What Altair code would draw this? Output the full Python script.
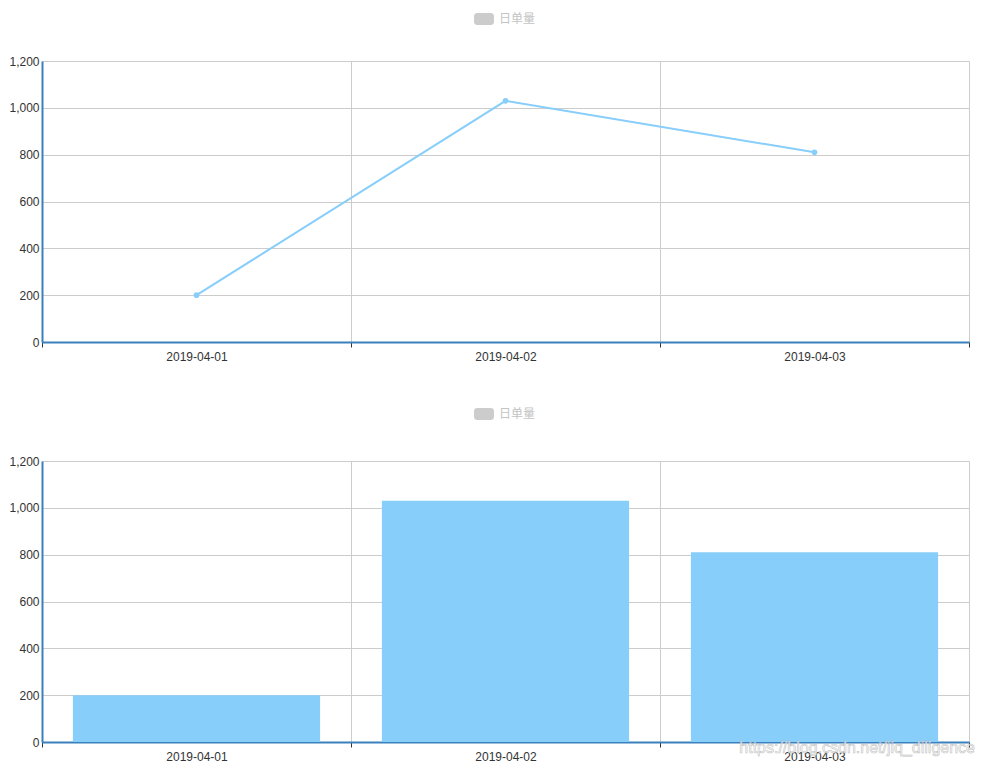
import altair as alt
import pandas as pd

dates = ["2019-04-01", "2019-04-02", "2019-04-03"]
orders = [200, 1030, 810]
series_name = "日单量"
y_ticks = [0, 200, 400, 600, 800, 1000, 1200]
watermark = "https://blog.csdn.net/jiq_diligence"

df = pd.DataFrame({"date": dates, "orders": orders})
legend_df = pd.DataFrame({"series": [series_name], "orders": [float("nan")]})
wm_df = pd.DataFrame({"wm": [watermark]})

W, H = 927, 281
BLUE = "#3a80bd"
LINE = "#87cefa"
GRID = "#cccccc"
LABEL_FONT = "Liberation Sans"
ROUNDED = ("M-0.7,-0.6 H0.7 A0.3,0.3 0 0 1 1,-0.3 V0.3 A0.3,0.3 0 0 1 0.7,0.6 "
           "H-0.7 A0.3,0.3 0 0 1 -1,0.3 V-0.3 A0.3,0.3 0 0 1 -0.7,-0.6 Z")


def x_enc():
    return alt.X(
        "date:N", sort=dates, title=None,
        scale=alt.Scale(paddingInner=0, paddingOuter=0),
        axis=alt.Axis(labelAngle=0, tickBand="extent", grid=True, gridColor=GRID,
                      domainColor=BLUE, domainWidth=2, tickColor="#333", tickSize=5,
                      labelPadding=4, labelColor="#333", labelFontSize=12,
                      labelFont=LABEL_FONT),
    )


def y_enc():
    return alt.Y(
        "orders:Q", title=None,
        scale=alt.Scale(domain=[0, 1200], nice=False),
        axis=alt.Axis(values=y_ticks, format=",d", grid=True, gridColor=GRID,
                      domainColor=BLUE, domainWidth=2, ticks=False, labelPadding=3,
                      labelColor="#333", labelFontSize=12, labelFont=LABEL_FONT),
    )


def legend_layer(legend_y):
    return alt.Chart(legend_df).mark_square(opacity=1, filled=True).encode(
        y=y_enc(),
        color=alt.Color(
            "series:N",
            scale=alt.Scale(domain=[series_name], range=["#cccccc"]),
            legend=alt.Legend(title=None, orient="none", legendX=432, legendY=legend_y,
                              symbolType=ROUNDED, symbolSize=400, symbolStrokeWidth=0,
                              symbolOpacity=1, labelColor="#c4c4c4",
                              labelFont="Noto Sans CJK SC", labelFontSize=12,
                              labelOffset=5),
        ),
    )


base = alt.Chart(df)
line = base.mark_line(color=LINE, strokeWidth=2).encode(x=x_enc(), y=y_enc())
pts = base.mark_circle(color=LINE, size=32, opacity=1).encode(x=x_enc(), y=y_enc())
top = alt.layer(line, pts, legend_layer(-52)).properties(width=W, height=H)

bars = base.mark_bar(color=LINE, width=alt.RelativeBandSize(0.8)).encode(x=x_enc(), y=y_enc())
wm = alt.Chart(wm_df).mark_text(
    align="right", baseline="alphabetic", fontSize=16, font=LABEL_FONT,
    fill="white", stroke="#b8b8b8", strokeWidth=0.6, opacity=0.85,
).encode(x=alt.value(933), y=alt.value(292), text="wm:N")
bottom = alt.layer(bars, legend_layer(-57), wm).properties(width=W, height=H)

chart = (
    alt.vconcat(top, bottom, spacing=40)
    .resolve_scale(color="independent")
    .resolve_legend(color="independent")
    .properties(padding=0)
    .configure_view(stroke="transparent")
)

chart.save("out.html", embed_options={"renderer": "svg", "actions": False})
